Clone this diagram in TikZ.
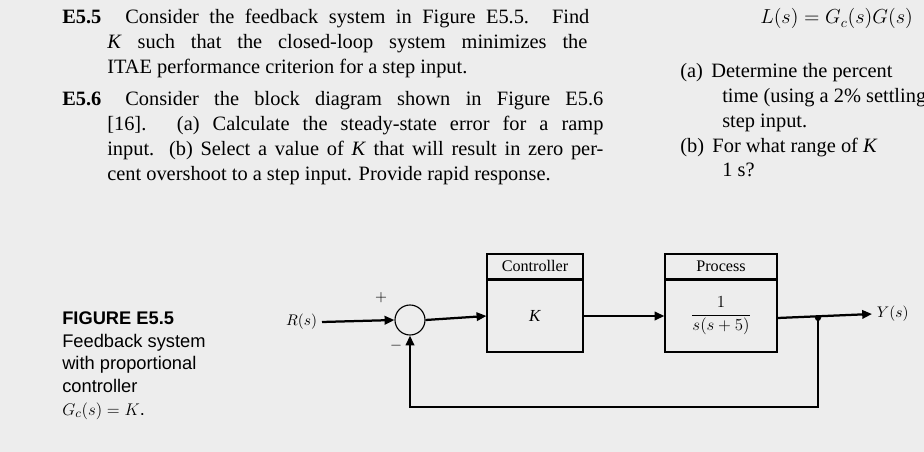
\documentclass[tikz,border=0pt]{standalone}
\usepackage{fontspec}
\setmainfont{Liberation Serif}
\newfontfamily\capfont{Liberation Sans}
\usetikzlibrary{arrows.meta}
\begin{document}
\begin{tikzpicture}[x=0.025cm,y=-0.025cm,
  txt/.style={anchor=base west,inner sep=0pt,font=\fontsize{14.5}{16}\selectfont},
  captxt/.style={anchor=base west,inner sep=0pt,font=\capfont\fontsize{13}{15}\selectfont},
  blk/.style={draw,line width=0.8pt,minimum width=2.4cm,inner sep=0pt},
  lab/.style={font=\fontsize{11}{13}\selectfont},
  sig/.style={line width=1.6pt},
  arr/.style={sig,-{Triangle[length=7pt,width=6pt]}}]
\fill[black!7] (0,0) rectangle (924,452);
\useasboundingbox (0,0) rectangle (924,452);
% left text
\node[txt] (e55) at (62,24) {\textbf{E5.5}};
\node[txt] (l1) at (125,24) {\makebox[11.6cm][s]{Consider the feedback system in Figure E5.5. Find}};
\node[txt] (l2) at (107,49) {\makebox[12.0cm][s]{\textit{K} such that the closed-loop system minimizes the}};
\node[txt] (l3) at (107,74) {ITAE performance criterion for a step input.};
\node[txt] (e56) at (62,106) {\textbf{E5.6}};
\node[txt] (l4) at (125,106) {\makebox[11.95cm][s]{Consider the block diagram shown in Figure E5.6}};
\node[txt] (l5) at (107,131) {\makebox[12.4cm][s]{[16]. (a) Calculate the steady-state error for a ramp}};
\node[txt] (l6) at (107,156) {\makebox[12.4cm][s]{input. (b) Select a value of \textit{K} that will result in zero per-}};
\node[txt] (l7) at (107,181) {cent overshoot to a step input. Provide rapid response.};
% right text
\node[txt] (ls) at (760,24) {$L(s)=G_c(s)G(s)$};
\node[txt] (ra) at (680,78) {(a)\hspace{6pt}Determine the percent};
\node[txt] (rb) at (722,103) {time (using a 2\% settling};
\node[txt] (rc) at (722,128) {step input.};
\node[txt] (rd) at (680,153) {(b)\hspace{6pt}For what range of \textit{K}};
\node[txt] (re) at (722,177) {1 s?};
% caption
\node[captxt] (c1) at (62,324) {\textbf{FIGURE E5.5}};
\node[captxt] (c2) at (62,347) {Feedback system};
\node[captxt] (c3) at (62,369) {with proportional};
\node[captxt] (c4) at (62,392) {controller};
\node[captxt] (c5) at (62,415) {$G_c(s)=K$.};
% diagram
\node[lab,anchor=east] (R) at (322,322) {$R(s)$};
\node (sumn) at (410,320) [draw,line width=0.8pt,circle,minimum size=0.75cm,inner sep=0pt] {};
\node[lab] (plus) at (381,298) {$+$};
\node[lab] (minus) at (396,346) {$-$};
\node[blk,minimum height=1.8cm] (ctl) at (535,316) {\fontsize{12}{14}\selectfont\textit{K}};
\node[blk,anchor=south,minimum height=0.62cm] (ctlh) at (ctl.north) {\fontsize{11.5}{13}\selectfont Controller};
\node[blk,minimum width=2.8cm,minimum height=1.8cm] (pro) at (721,316) {\fontsize{11.5}{13}\selectfont$\displaystyle\frac{1}{s(s+5)}$};
\node[blk,minimum width=2.8cm,anchor=south,minimum height=0.62cm] (proh) at (pro.north) {\fontsize{11.5}{13}\selectfont Process};
\node[lab,anchor=west] (Y) at (872,314) {$Y(s)$};
\coordinate (br) at (818,318);
\coordinate (fb1) at (818,407);
\coordinate (fb2) at (410,407);
\draw[arr] (R.east) -- (sumn.west);
\draw[arr] (sumn.east) -- (ctl.west);
\draw[arr] (ctl.east) -- (pro.west);
\draw[arr] (pro.east |- br) -- (Y.west);
\draw[arr] (br) -- (fb1) -- (fb2) -- (sumn.south);
\fill (br) circle (3);
\end{tikzpicture}
\end{document}
